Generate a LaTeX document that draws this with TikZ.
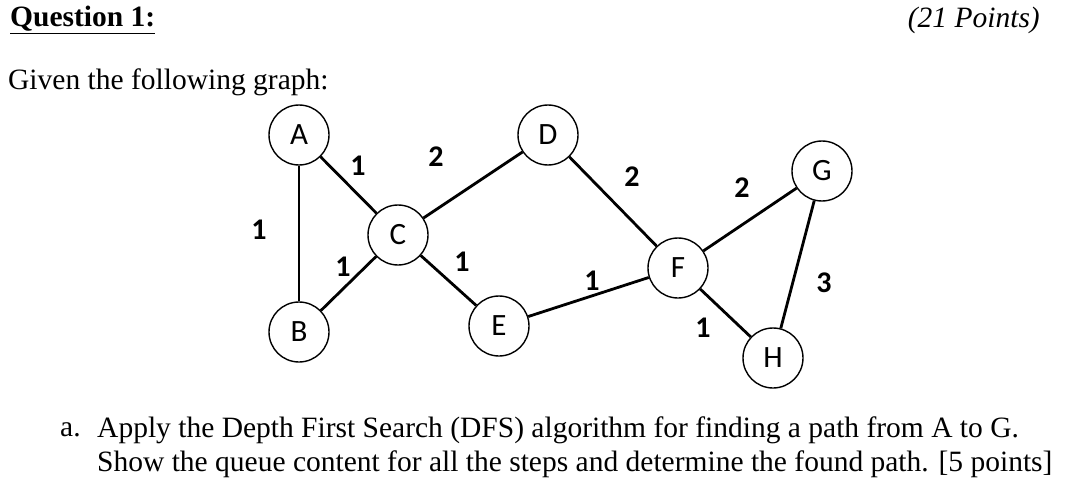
\documentclass[tikz,border=0pt]{standalone}
\usepackage{fontspec}
\setmainfont{Liberation Serif}
\newfontfamily\calib{Carlito}
\begin{document}
\begin{tikzpicture}[x=1pt,y=-1pt,
  vert/.style={circle,draw,line width=1.4pt,minimum size=60pt,inner sep=0pt,font=\calib\fontsize{31}{34}\selectfont},
  edge/.style={line width=2.8pt},
  wlab/.style={font=\calib\bfseries\fontsize{30}{34}\selectfont},
  txt/.style={font=\fontsize{29.5}{34}\selectfont,inner sep=0pt,anchor=west}]
\useasboundingbox (0,0) rectangle (1084,500);
\node[vert] (A) at (299,135) {A};
\node[vert] (D) at (548,135) {D};
\node[vert] (G) at (822,171) {G};
\node[vert] (C) at (398,235) {C};
\node[vert] (F) at (678,268) {F};
\node[vert] (B) at (299,332) {B};
\node[vert] (E) at (499,326) {E};
\node[vert] (H) at (773,358) {H};
\draw[edge] (A)--(C); \draw[edge] (C)--(D); \draw[edge] (A)--(B);
\draw[edge] (B)--(C); \draw[edge] (C)--(E); \draw[edge] (D)--(F);
\draw[edge] (E)--(F); \draw[edge] (F)--(G); \draw[edge] (F)--(H);
\draw[edge] (G)--(H);
\node[wlab] (l1) at (358,166) {1};
\node[wlab] (l2) at (436,157) {2};
\node[wlab] (l3) at (259,230) {1};
\node[wlab] (l4) at (343,267) {1};
\node[wlab] (l5) at (462,262) {1};
\node[wlab] (l6) at (632,177) {2};
\node[wlab] (l7) at (592,281) {1};
\node[wlab] (l8) at (742,188) {2};
\node[wlab] (l9) at (703,328) {1};
\node[wlab] (l10) at (824,283) {3};
\node[txt,font=\bfseries\fontsize{29.5}{34}\selectfont] (q) at (10,20) {\underline{Question 1:}};
\node[txt,anchor=east,font=\itshape\fontsize{29.5}{34}\selectfont] (p) at (1040,20) {(21 Points)};
\node[txt] (g) at (8,82) {Given the following graph:};
\node[txt] (a) at (60,430) {a.};
\node[txt] (t1) at (97,430) {Apply the Depth First Search (DFS) algorithm for finding a path from A to G.};
\node[txt] (t2) at (97,464) {Show the queue content for all the steps and determine the found path. [5 points]};
\end{tikzpicture}
\end{document}
